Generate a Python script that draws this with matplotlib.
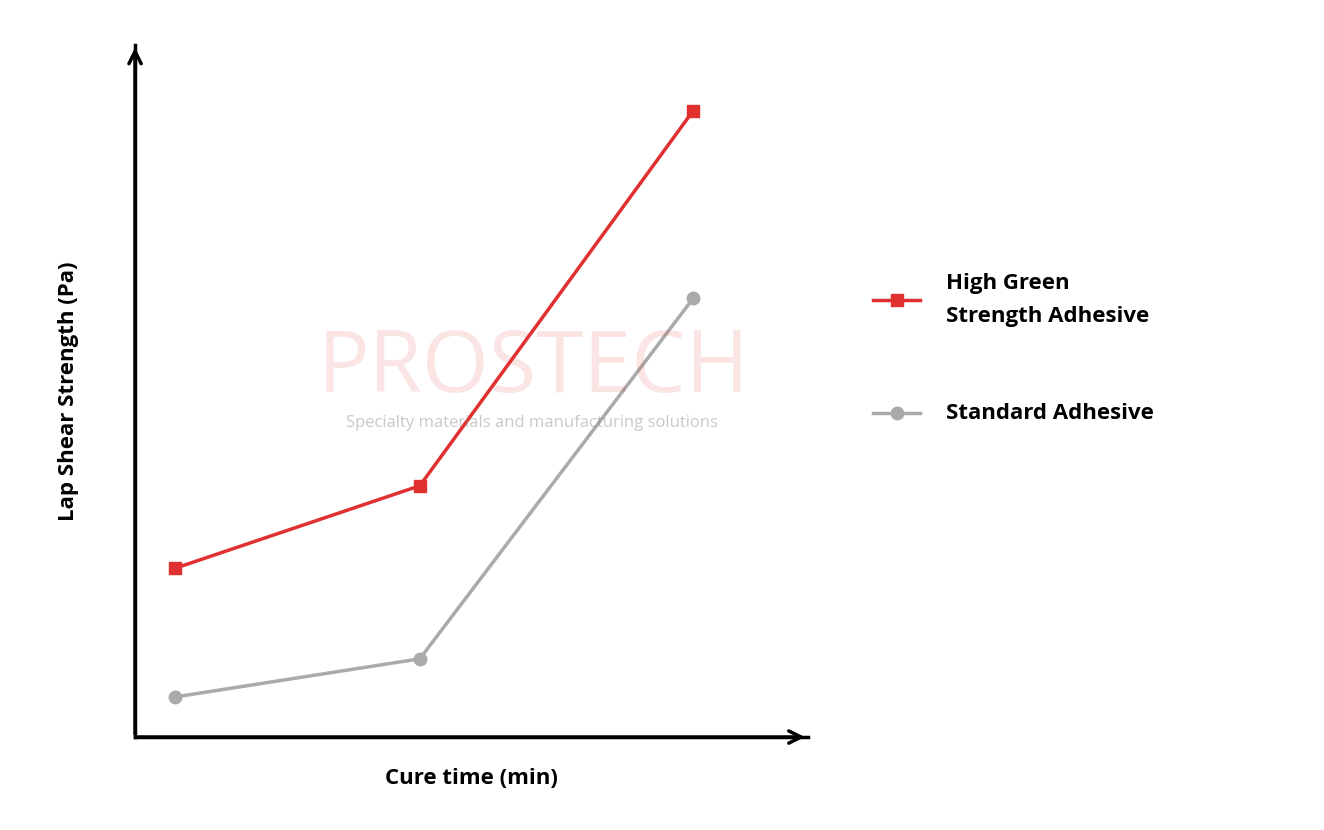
import matplotlib
matplotlib.use("Agg")
import matplotlib.pyplot as plt
from matplotlib.lines import Line2D

cure_time = [1.8, 12.7, 24.9]
high_green = [24.4, 36.3, 90.5]
standard = [5.8, 11.3, 63.4]
series_names = ["High Green\nStrength Adhesive", "Standard Adhesive"]

plt.rcParams['font.family'] = ['Open Sans', 'DejaVu Sans']
fig = plt.figure(figsize=(13.24, 8.3), dpi=100)
ax = fig.add_axes([0.102, 0.112, 0.508, 0.834])
ax.set_xlim(0, 30)
ax.set_ylim(0, 100)

red = "#e03030"
gray = "#aaaaaa"
styles = [dict(color=red, marker='s'), dict(color=gray, marker='o')]
for vals, st, name in zip([high_green, standard], styles, series_names):
    ax.plot(cure_time, vals, lw=2.5, ms=9, label=name, **st)

for s in ['top', 'right']:
    ax.spines[s].set_visible(False)
for s in ['left', 'bottom']:
    ax.spines[s].set_linewidth(2.5)
ax.set_xticks([]); ax.set_yticks([])
ax.annotate('', xy=(1.0, 0), xytext=(0, 0), xycoords='axes fraction',
            arrowprops=dict(arrowstyle='->', lw=2.5, color='black', mutation_scale=22))
ax.annotate('', xy=(0, 1.0), xytext=(0, 0), xycoords='axes fraction',
            arrowprops=dict(arrowstyle='->', lw=2.5, color='black', mutation_scale=22))

ax.set_xlabel("Cure time (min)", fontsize=16, fontweight='bold', labelpad=22, color='black')
ax.set_ylabel("Lap Shear Strength (Pa)", fontsize=16, fontweight='bold', labelpad=40, color='black')

# watermark
fig.text(0.403, 0.555, "PROSTECH", fontsize=62, color='#e03030', alpha=0.13, ha='center', va='center')
fig.text(0.402, 0.49, "Specialty materials and manufacturing solutions", fontsize=12,
         color='#888888', alpha=0.45, ha='center', va='center')

# legend placed manually
leg_y = [0.638, 0.502]
for st, name, y in zip(styles, series_names, leg_y):
    fig.add_artist(Line2D([873/1324, 920/1324], [y, y], lw=2.5, ms=9,
                          transform=fig.transFigure, markevery=[0] if False else None, **{k: v for k, v in st.items() if k != 'marker'}))
    fig.add_artist(Line2D([896.5/1324], [y], ms=9, transform=fig.transFigure, ls='none', **st))
    fig.text(946/1324, y, name, fontsize=16, fontweight='bold', va='center', ha='left',
             linespacing=1.75, color='black')
fig.savefig("out.png", dpi=100)
